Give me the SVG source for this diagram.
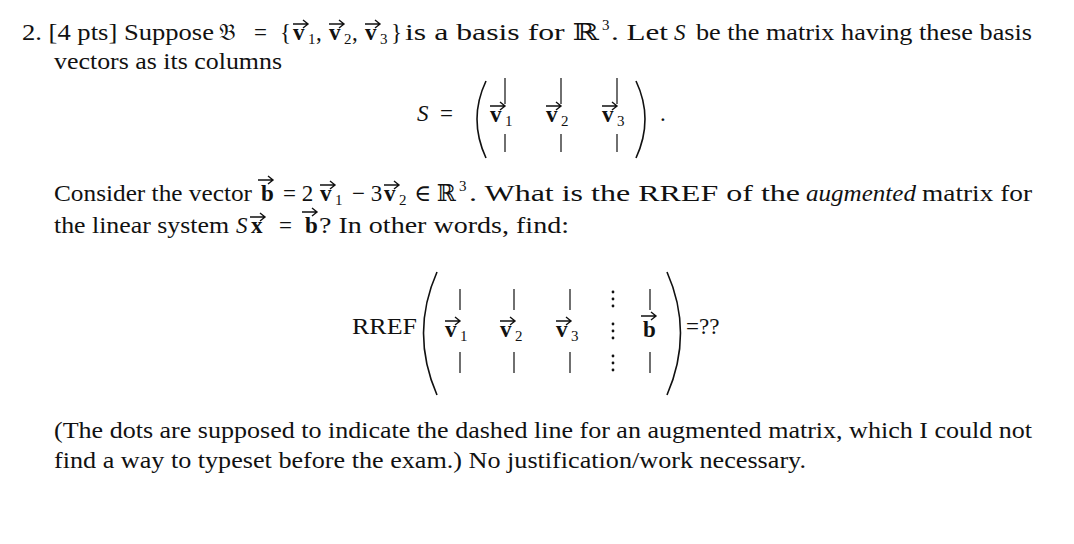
<svg xmlns="http://www.w3.org/2000/svg" width="1074" height="544" viewBox="0 0 1074 544">
<style>
text{font-family:"Liberation Serif","DejaVu Serif",serif;font-size:23px;fill:#111}
.b{font-weight:bold}
.i{font-style:italic}
.s{font-size:15px}
.ar{stroke:#111;stroke-width:1.4;fill:none}
.bar{stroke:#111;stroke-width:1.2}
.par{stroke:#111;stroke-width:1.6;fill:none}
</style>
<defs>
<path id="arr" class="ar" d="M0 0H15M10 -4L15 0L10 4"/>
</defs>
<rect width="1074" height="544" fill="#fff"/>
<!-- line 1 -->
<text x="22" y="40" textLength="192" lengthAdjust="spacingAndGlyphs">2. [4 pts] Suppose</text>
<text x="219" y="40" style="font-family:'DejaVu Serif',serif">𝔅</text>
<text x="254" y="40">=</text>
<text x="280" y="40">{</text>
<text x="293" y="40" class="b">v</text><text x="308" y="44" class="s">1</text><text x="316" y="40">,</text>
<text x="329" y="40" class="b">v</text><text x="344" y="44" class="s">2</text><text x="352" y="40">,</text>
<text x="365" y="40" class="b">v</text><text x="380" y="44" class="s">3</text><text x="391" y="40">}</text>
<use href="#arr" x="293" y="24"/><use href="#arr" x="329" y="24"/><use href="#arr" x="365" y="24"/>
<text x="405" y="40" textLength="194" lengthAdjust="spacingAndGlyphs">is a basis for ℝ</text>
<text x="602" y="30" class="s">3</text>
<text x="611" y="40" textLength="57" lengthAdjust="spacingAndGlyphs">. Let</text>
<text x="674" y="40" class="i">S</text>
<text x="696" y="40" textLength="336" lengthAdjust="spacingAndGlyphs">be the matrix having these basis</text>
<text x="54" y="69" textLength="228" lengthAdjust="spacingAndGlyphs">vectors as its columns</text>
<!-- S matrix -->
<g id="smatrix">
<text x="417" y="121" class="i">S</text><text x="440" y="121">=</text>
<path class="par" d="M486 81Q468 119 486 158"/>
<path class="par" d="M636 81Q654 119 636 158"/>
<text x="490" y="122" class="b">v</text><text x="505" y="126" class="s">1</text>
<text x="546" y="122" class="b">v</text><text x="561" y="126" class="s">2</text>
<text x="602" y="122" class="b">v</text><text x="617" y="126" class="s">3</text>
<use href="#arr" x="490" y="106"/><use href="#arr" x="546" y="106"/><use href="#arr" x="602" y="106"/>
<path class="bar" d="M505 78V104M561 78V104M617 78V104M505 134V152M561 134V152M617 134V152"/>
<text x="660" y="121">.</text>
</g>
<!-- line 3 -->
<text x="54" y="201" textLength="198" lengthAdjust="spacingAndGlyphs">Consider the vector</text>
<text x="261" y="201" class="b">b</text><use href="#arr" x="258" y="180"/>
<text x="283" y="201">= 2</text>
<text x="320" y="201" class="b">v</text><text x="335" y="205" class="s">1</text><use href="#arr" x="320" y="185"/>
<text x="352" y="201">− 3</text>
<text x="384" y="201" class="b">v</text><text x="399" y="205" class="s">2</text><use href="#arr" x="384" y="185"/>
<text x="414" y="201">∈ ℝ</text><text x="459" y="191" class="s">3</text>
<text x="469" y="201" textLength="331" lengthAdjust="spacingAndGlyphs">. What is the RREF of the</text>
<text x="806" y="201" class="i" textLength="110" lengthAdjust="spacingAndGlyphs">augmented</text>
<text x="922" y="201" textLength="110" lengthAdjust="spacingAndGlyphs">matrix for</text>
<text x="54" y="233" textLength="175" lengthAdjust="spacingAndGlyphs">the linear system</text>
<text x="236" y="233" class="i">S</text>
<text x="251" y="233" class="b">x</text><use href="#arr" x="250" y="217"/>
<text x="279" y="233">=</text>
<text x="305" y="233" class="b">b</text><use href="#arr" x="302" y="212"/>
<text x="319" y="233" textLength="250" lengthAdjust="spacingAndGlyphs">? In other words, find:</text>
<!-- RREF matrix -->
<g id="rref">
<text x="352" y="334" textLength="65" lengthAdjust="spacingAndGlyphs">RREF</text>
<path class="par" d="M437 272Q410 333 437 395"/>
<path class="par" d="M667 272Q694 333 667 395"/>
<text x="445" y="337" class="b">v</text><text x="460" y="341" class="s">1</text>
<text x="500" y="337" class="b">v</text><text x="515" y="341" class="s">2</text>
<text x="556" y="337" class="b">v</text><text x="571" y="341" class="s">3</text>
<text x="643" y="337" class="b">b</text>
<use href="#arr" x="445" y="321"/><use href="#arr" x="500" y="321"/><use href="#arr" x="556" y="321"/><use href="#arr" x="641" y="316"/>
<path class="bar" d="M460 289V310M514 289V310M570 289V310M650 289V310M460 352V373M514 352V373M570 352V373M650 352V373"/>
<g fill="#111">
<circle cx="613" cy="292" r="1.4"/><circle cx="613" cy="299" r="1.4"/><circle cx="613" cy="306" r="1.4"/>
<circle cx="613" cy="324" r="1.4"/><circle cx="613" cy="331" r="1.4"/><circle cx="613" cy="338" r="1.4"/>
<circle cx="613" cy="356" r="1.4"/><circle cx="613" cy="363" r="1.4"/><circle cx="613" cy="370" r="1.4"/>
</g>
<text x="686" y="334">=??</text>
</g>
<!-- bottom -->
<text x="54" y="438" textLength="978" lengthAdjust="spacingAndGlyphs">(The dots are supposed to indicate the dashed line for an augmented matrix, which I could not</text>
<text x="54" y="468" textLength="752" lengthAdjust="spacingAndGlyphs">find a way to typeset before the exam.) No justification/work necessary.</text>
</svg>
